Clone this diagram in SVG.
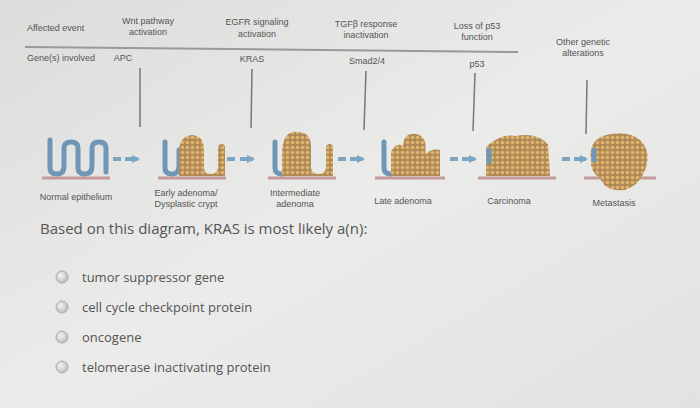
<svg xmlns="http://www.w3.org/2000/svg" width="700" height="408" viewBox="0 0 700 408">
<defs>
<linearGradient id="bg" x1="0" y1="0" x2="1" y2="1"><stop offset="0" stop-color="#dcdcdb"/><stop offset="0.5" stop-color="#ebebea"/><stop offset="1" stop-color="#e2e2e1"/></linearGradient>
<pattern id="cells" width="5" height="5" patternUnits="userSpaceOnUse"><rect width="5" height="5" fill="#b08a56"/><circle cx="2.5" cy="2.5" r="1.8" fill="#e0b46e"/></pattern>
<marker id="ah" markerWidth="8" markerHeight="8" refX="6" refY="4" orient="auto" markerUnits="userSpaceOnUse"><path d="M0,0L8,4L0,8z" fill="#7aa6c4"/></marker>
<radialGradient id="rb" cx="0.4" cy="0.4" r="0.6"><stop offset="0" stop-color="#f4f4f4"/><stop offset="1" stop-color="#bdbdbd"/></radialGradient>
</defs>
<style>
.s{font-family:"Liberation Sans",Arial,sans-serif;font-size:9px;fill:#555;text-anchor:middle}
.l{text-anchor:start}
.q{font-family:"Open Sans","Liberation Sans",sans-serif;font-size:15px;fill:#555}
.o{font-family:"Open Sans","Liberation Sans",sans-serif;font-size:13px;fill:#555}
.ln{stroke:#777;stroke-width:1.5}
.base{stroke:#c79a9a;stroke-width:3}
.crypt{fill:none;stroke:#6f97b5;stroke-width:5;stroke-linecap:round}
.arr{stroke:#7aa6c4;stroke-width:4}
.dash{stroke:#7aa6c4;stroke-width:4}
.tum{fill:url(#cells)}
</style>
<rect width="700" height="408" fill="url(#bg)"/>
<g id="header">
<text class="s l" x="27" y="31">Affected event</text>
<text class="s" x="148" y="24">Wnt pathway</text><text class="s" x="148" y="35">activation</text>
<text class="s" x="257" y="25">EGFR signaling</text><text class="s" x="257" y="37">activation</text>
<text class="s" x="366" y="27">TGFβ response</text><text class="s" x="366" y="38">inactivation</text>
<text class="s" x="477" y="29">Loss of p53</text><text class="s" x="477" y="40">function</text>
<text class="s" x="583" y="45">Other genetic</text><text class="s" x="583" y="56">alterations</text>
<line x1="25" y1="47" x2="518" y2="52" stroke="#999" stroke-width="2"/>
<text class="s l" x="27" y="61">Gene(s) involved</text>
<text class="s" x="123" y="61">APC</text>
<text class="s" x="252" y="62">KRAS</text>
<text class="s" x="367" y="64">Smad2/4</text>
<text class="s" x="477" y="67">p53</text>
</g>
<g id="connectors">
<line class="ln" x1="140" y1="68" x2="140" y2="127"/>
<line class="ln" x1="252" y1="69" x2="251" y2="128"/>
<line class="ln" x1="366" y1="71" x2="364" y2="130"/>
<line class="ln" x1="475" y1="73" x2="473" y2="131"/>
<line class="ln" x1="587" y1="80" x2="586" y2="134"/>
<line class="dash" x1="113" y1="159" x2="121" y2="159"/><line class="arr" x1="125" y1="159" x2="138" y2="159" marker-end="url(#ah)"/>
<line class="dash" x1="227" y1="159" x2="235" y2="159"/><line class="arr" x1="240" y1="159" x2="253" y2="159" marker-end="url(#ah)"/>
<line class="dash" x1="338" y1="159" x2="346" y2="159"/><line class="arr" x1="350" y1="159" x2="363" y2="159" marker-end="url(#ah)"/>
<line class="dash" x1="450" y1="159" x2="458" y2="159"/><line class="arr" x1="462" y1="159" x2="475" y2="159" marker-end="url(#ah)"/>
<line class="dash" x1="562" y1="159" x2="570" y2="159"/><line class="arr" x1="574" y1="159" x2="586" y2="159" marker-end="url(#ah)"/>
</g>
<g id="normal">
<line class="base" x1="42" y1="178" x2="110" y2="178"/>
<path class="crypt" d="M50,140V168Q50,174 57,174Q64,174 64,166V148Q64,142 71,142Q78,142 78,148V168Q78,174 85,174Q92,174 92,166V148Q92,142 99,142Q106,142 106,148V172"/>
</g>
<g id="early">
<line class="base" x1="158" y1="178" x2="226" y2="178"/>
<path class="crypt" d="M165,142V168Q165,174 172,174Q179,174 179,166V150"/>
<path class="tum" d="M179,150Q180,136 192,135Q204,136 204,150V168Q204,174 211,174Q218,174 218,166V146Q222,142 225,146V176H179Z"/>
</g>
<g id="intermediate">
<line class="base" x1="268" y1="178" x2="336" y2="178"/>
<path class="crypt" d="M275,142V168Q275,174 282,174"/>
<path class="tum" d="M282,176V150Q284,130 298,132Q312,132 311,150V168Q312,174 319,174Q326,174 326,166V146Q330,142 333,146V176Z"/>
</g>
<g id="late">
<line class="base" x1="375" y1="178" x2="445" y2="178"/>
<path class="crypt" d="M384,142V168Q384,174 391,174"/>
<path class="tum" d="M391,176V152Q396,142 403,146Q404,132 416,134Q428,136 425,154Q432,148 440,150V176Z"/>
</g>
<g id="carcinoma">
<line class="base" x1="478" y1="178" x2="556" y2="178"/>
<path class="tum" d="M486,176V147Q500,133 516,136Q536,132 548,144L550,176Z"/>
<path class="crypt" d="M489,150V162"/>
</g>
<g id="metastasis">
<line class="base" x1="584" y1="178" x2="656" y2="178"/>
<path class="tum" d="M591,160Q588,140 606,135Q628,130 640,140Q652,152 645,170Q640,185 625,190Q605,192 600,178Q590,172 591,160Z"/>
<path class="crypt" d="M594,150V160"/>
</g>
<g id="labels">
<text class="s" x="76" y="200">Normal epithelium</text>
<text class="s" x="186" y="196">Early adenoma/</text><text class="s" x="186" y="207">Dysplastic crypt</text>
<text class="s" x="295" y="196">Intermediate</text><text class="s" x="295" y="207">adenoma</text>
<text class="s" x="403" y="204">Late adenoma</text>
<text class="s" x="509" y="204">Carcinoma</text>
<text class="s" x="614" y="206">Metastasis</text>
</g>
<text class="q" x="40" y="234">Based on this diagram, KRAS is most likely a(n):</text>
<g id="options">
<circle cx="62" cy="277" r="6" fill="url(#rb)" stroke="#aaa"/><text class="o" x="82" y="282">tumor suppressor gene</text>
<circle cx="62" cy="307" r="6" fill="url(#rb)" stroke="#aaa"/><text class="o" x="82" y="312">cell cycle checkpoint protein</text>
<circle cx="62" cy="337" r="6" fill="url(#rb)" stroke="#aaa"/><text class="o" x="82" y="342">oncogene</text>
<circle cx="62" cy="367" r="6" fill="url(#rb)" stroke="#aaa"/><text class="o" x="82" y="372">telomerase inactivating protein</text>
</g>
</svg>
